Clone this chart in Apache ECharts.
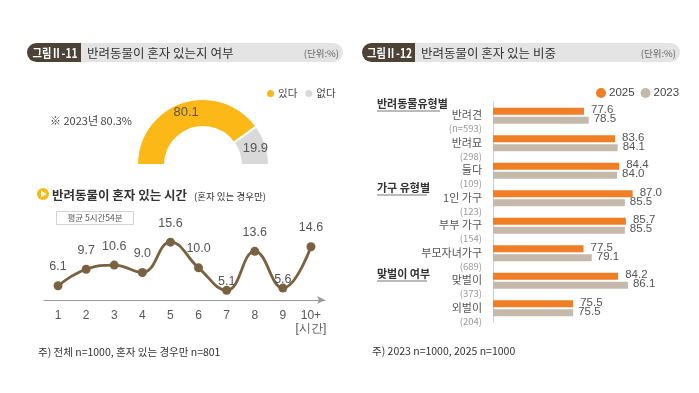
<!DOCTYPE html>
<html>
<head>
<meta charset="utf-8">
<script src="https://cdn.jsdelivr.net/npm/echarts@6/dist/echarts.min.js"></script>
<style>
html,body{margin:0;padding:0;background:#fff;}
#c{width:699px;height:393px;}
</style>
</head>
<body>
<div id="c"></div>
<script>
// ---- data ----
const aloneNames = ['있다', '없다'];
const aloneValues = [80.1, 19.9];

const hourLabels = ['1', '2', '3', '4', '5', '6', '7', '8', '9', '10+'];
const hourValues = [6.1, 9.7, 10.6, 9.0, 15.6, 10.0, 5.1, 13.6, 5.6, 14.6];

const barCategories = ['반려견', '반려묘', '둘다', '1인 가구', '부부 가구', '부모자녀가구', '맞벌이', '외벌이'];
const barSamples = ['(n=593)', '(298)', '(109)', '(123)', '(154)', '(689)', '(373)', '(204)'];
const values2025 = [77.6, 83.6, 84.4, 87.0, 85.7, 77.5, 84.2, 75.5];
const values2023 = [78.5, 84.1, 84.0, 85.5, 85.5, 79.1, 86.1, 75.5];
const seriesNames = ['2025', '2023'];

// ---- style ----
const KR = "'Noto Sans CJK KR', 'Noto Sans', sans-serif";
const NUM = "'Liberation Sans', 'Noto Sans', sans-serif";
const DARK = '#4D4236';
const BAND = '#E4E4E4';
const YELLOW = '#FBB817';
const LGRAY = '#D9D9D9';
const BROWN = '#7A6140';
const ORANGE = '#F07E26';
const TAUPE = '#C5B9AC';

function header(x0, x1, x2, tag, title) {
  return [
    {type: 'rect', shape: {x: x0, y: 43, width: x1 - x0, height: 19, r: [10, 0, 0, 10]}, style: {fill: DARK}},
    {type: 'rect', shape: {x: x1, y: 43, width: x2 - x1, height: 19, r: [0, 10, 10, 0]}, style: {fill: BAND}},
    {type: 'text', x: (x0 + x1) / 2 + 1, y: 53, scaleX: 0.82, style: {text: tag, fill: '#fff', font: 'bold 12.5px ' + KR, align: 'center', verticalAlign: 'middle'}},
    {type: 'text', x: x1 + 6, y: 53, style: {text: title, fill: '#333', font: '12.5px ' + KR, verticalAlign: 'middle'}},
    {type: 'text', x: x2 - 4, y: 53, style: {text: '(단위:%)', fill: '#666', font: '9.5px ' + KR, align: 'right', verticalAlign: 'middle'}}
  ];
}

function groupLabel(x, y, text, w) {
  return [
    {type: 'text', x: x, y: y, style: {text: text, fill: '#333', font: 'bold 11px ' + KR, verticalAlign: 'middle'}},
    {type: 'line', shape: {x1: x, y1: y + 7, x2: x + w, y2: y + 7}, style: {stroke: '#555', lineWidth: 0.8}}
  ];
}

const graphics = [].concat(
  header(27, 81, 343, '그림Ⅱ-11', '반려동물이 혼자 있는지 여부'),
  header(362, 415, 680, '그림Ⅱ-12', '반려동물이 혼자 있는 비중'),
  [
    {type: 'text', x: 50, y: 121, style: {text: '※ 2023년 80.3%', fill: '#444', font: '11px ' + KR, verticalAlign: 'middle'}},
    {type: 'circle', shape: {cx: 43, cy: 194, r: 6}, style: {fill: YELLOW}},
    {type: 'polygon', shape: {points: [[41, 190.5], [41, 197.5], [46.5, 194]]}, style: {fill: '#fff'}},
    {type: 'text', x: 52, y: 195, style: {text: '반려동물이 혼자 있는 시간', fill: '#333', font: 'bold 12.5px ' + KR, verticalAlign: 'middle'}},
    {type: 'text', x: 194, y: 196, style: {text: '(혼자 있는 경우만)', fill: '#333', font: '9.5px ' + KR, verticalAlign: 'middle'}},
    {type: 'rect', shape: {x: 56.5, y: 211.5, width: 77, height: 13}, style: {fill: '#fff', stroke: '#d4d4d4', lineWidth: 1}},
    {type: 'text', x: 95, y: 218, style: {text: '평균 5시간54분', fill: '#555', font: '8.5px ' + KR, align: 'center', verticalAlign: 'middle'}},
    {type: 'text', x: 38, y: 352, style: {text: '주) 전체 n=1000, 혼자 있는 경우만 n=801', fill: '#333', font: '10.5px ' + KR, verticalAlign: 'middle'}},
    {type: 'text', x: 372, y: 351, style: {text: '주) 2023 n=1000, 2025 n=1000', fill: '#333', font: '10.5px ' + KR, verticalAlign: 'middle'}}
  ],
  groupLabel(377, 104, '반려동물유형별', 63),
  groupLabel(377, 188, '가구 유형별', 50),
  groupLabel(377, 274, '맞벌이 여부', 50)
);

const chart = echarts.init(document.getElementById('c'), null, {renderer: 'canvas'});

const lineData = hourValues.map((v) => {
  const d = {value: v};
  if (v < 6) d.label = {offset: [0, 10]};
  return d;
});

chart.setOption({
  animation: false,
  backgroundColor: '#fff',
  textStyle: {fontFamily: KR},
  graphic: graphics,
  legend: [
    {
      data: aloneNames, left: 260, top: 83, icon: 'circle', itemWidth: 9, itemHeight: 9, itemGap: 6,
      textStyle: {fontSize: 10.5, color: '#444', fontFamily: KR, padding: [0, 0, 0, -2]}
    },
    {
      data: seriesNames, left: 591, top: 82, icon: 'circle', itemWidth: 10, itemHeight: 10, itemGap: 6,
      textStyle: {fontSize: 11.5, color: '#444', fontFamily: NUM, padding: [0, 0, 0, -2]}
    }
  ],
  grid: [
    {left: 44, width: 281, top: 199, height: 101},
    {left: 493, width: 181, top: 102, height: 220}
  ],
  xAxis: [
    {
      gridIndex: 0, type: 'category', data: hourLabels, boundaryGap: true,
      axisLine: {show: true, symbol: ['none', 'arrow'], symbolSize: [6, 8], lineStyle: {color: '#999', width: 1.2}},
      axisTick: {show: false},
      axisLabel: {
        interval: 0, margin: 9, color: '#555', fontSize: 12, lineHeight: 13, fontFamily: NUM,
        formatter: (v) => v === '10+' ? '10+\n[시간]' : v
      }
    },
    {
      gridIndex: 1, type: 'value', min: 60, max: 95,
      show: false
    }
  ],
  yAxis: [
    {gridIndex: 0, type: 'value', min: 3, max: 25, show: false},
    {
      gridIndex: 1, type: 'category', data: barCategories, inverse: true,
      axisLine: {show: true, lineStyle: {color: '#cfcfcf', width: 1}},
      axisTick: {show: false},
      axisLabel: {
        interval: 0, margin: 11, padding: [12, 0, 0, 0],
        formatter: (v, i) => '{a|' + v + '}\n{b|' + barSamples[i] + '}',
        rich: {
          a: {fontSize: 11, color: '#555', lineHeight: 14, fontFamily: KR, align: 'right'},
          b: {fontSize: 9.5, color: '#9a9a9a', lineHeight: 13, fontFamily: KR, align: 'right'}
        }
      }
    }
  ],
  series: [
    {
      type: 'pie', name: '혼자 있는지 여부', center: [203, 165], radius: [38, 66],
      startAngle: 180, endAngle: 0, silent: true, avoidLabelOverlap: false,
      itemStyle: {borderColor: '#fff', borderWidth: 2},
      label: {show: true, position: 'inside', color: '#555', fontSize: 13, fontFamily: NUM, formatter: (p) => p.value.toFixed(1)},
      labelLine: {show: false},
      data: aloneNames.map((n, i) => ({name: n, value: aloneValues[i], itemStyle: {color: i === 0 ? YELLOW : LGRAY}}))
    },
    {
      type: 'line', xAxisIndex: 0, yAxisIndex: 0, data: lineData, smooth: 0.45,
      symbol: 'circle', symbolSize: 9,
      lineStyle: {color: BROWN, width: 2.8},
      itemStyle: {color: BROWN},
      label: {show: true, position: 'top', distance: 8, color: '#555', fontSize: 12.5, fontFamily: NUM, formatter: (p) => p.value.toFixed(1)}
    },
    {
      type: 'bar', name: seriesNames[0], xAxisIndex: 1, yAxisIndex: 1, data: values2025,
      barWidth: 7, barGap: '30%', itemStyle: {color: ORANGE},
      label: {show: true, position: 'right', distance: 7, offset: [0, -1], color: '#555', fontSize: 11.5, fontFamily: NUM, formatter: (p) => p.value.toFixed(1)}
    },
    {
      type: 'bar', name: seriesNames[1], xAxisIndex: 1, yAxisIndex: 1, data: values2023,
      barWidth: 7, itemStyle: {color: TAUPE},
      label: {show: true, position: 'right', distance: 5, offset: [0, -1], color: '#555', fontSize: 11.5, fontFamily: NUM, formatter: (p) => p.value.toFixed(1)}
    }
  ]
});
</script>
</body>
</html>
